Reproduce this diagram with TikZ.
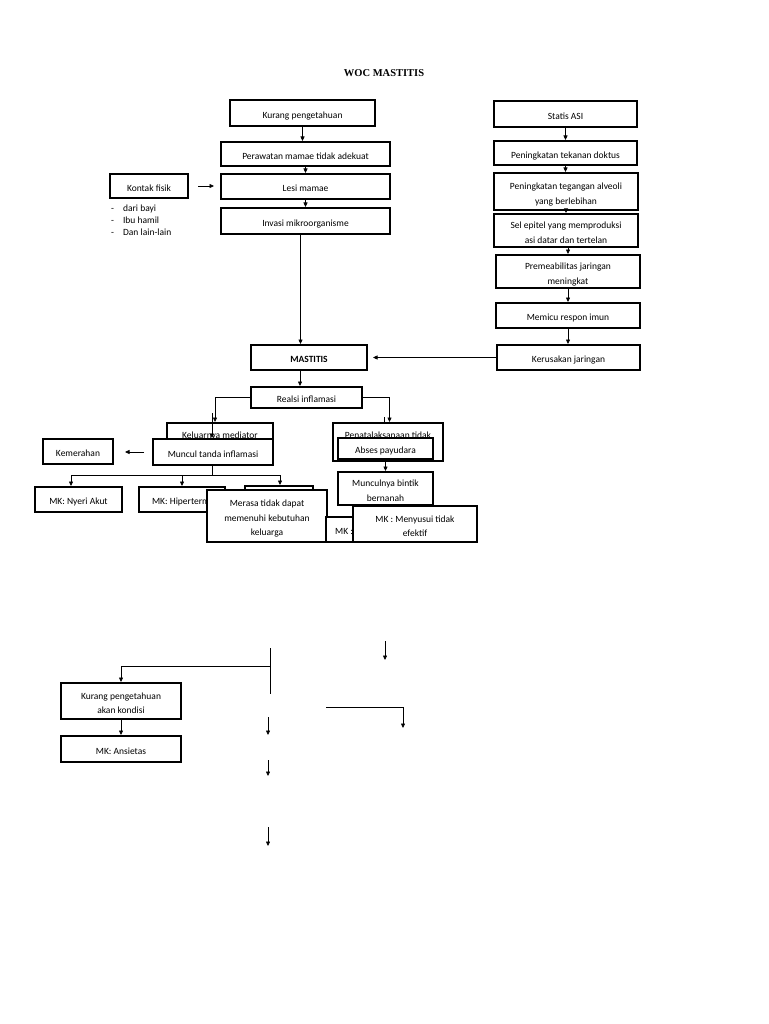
\documentclass[tikz,border=0pt]{standalone}
\usepackage{fontspec}
\setmainfont{Carlito}
\newfontfamily\titlefont{Liberation Serif}
\usetikzlibrary{arrows.meta}
\newcommand\mybox[6]{\node[box, minimum width={#4-#2}, minimum height={#5-#3}] (#1) at ({(#2+#4)/2},{(#3+#5)/2}) {\raisebox{-2.5pt}[\height][\depth]{\begin{tabular}{@{}c@{}}#6\end{tabular}}};}
\tikzset{
  box/.style={draw, line width=2pt, fill=white, align=center, inner sep=1pt, font=\fontsize{9.5}{14.5}\selectfont},
  conn/.style={line width=0.7pt},
  arr/.style={conn, -{Triangle[length=4.5pt,width=4pt]}},
  plain/.style={font=\fontsize{9.5}{12}\selectfont, inner sep=0pt},
}
\begin{document}
\begin{tikzpicture}[x=1pt,y=-1pt]
\useasboundingbox[fill=white] (0,0) rectangle (768,1024);

\node[font=\titlefont\bfseries\fontsize{10.5}{12}\selectfont] (title) at (384,73) {WOC MASTITIS};

% left column
\mybox{kurang}{230}{100}{375}{126}{Kurang pengetahuan}
\mybox{perawatan}{221}{142}{390}{166}{Perawatan mamae tidak adekuat}
\mybox{lesi}{221}{174}{390}{199}{Lesi mamae}
\mybox{invasi}{221}{208}{390}{234}{Invasi mikroorganisme}
\mybox{kontak}{110}{174}{188}{198}{Kontak fisik}
\node[plain, anchor=north west, align=left] (list) at (111,203)
  {\begin{tabular}{@{}l@{\hspace{9pt}}l@{}}
   - & dari bayi\\
   - & Ibu hamil\\
   - & Dan lain-lain
   \end{tabular}};

% right column
\mybox{statis}{494}{101}{637}{127}{Statis ASI}
\mybox{tekanan}{494}{141}{637}{165}{Peningkatan tekanan doktus}
\mybox{tegangan}{494}{173}{638}{210}{Peningkatan tegangan alveoli\\yang berlebihan}
\mybox{sel}{494}{214}{638}{247}{Sel epitel yang memproduksi\\asi datar dan tertelan}
\mybox{premeab}{496}{255}{640}{288}{Premeabilitas jaringan\\meningkat}
\mybox{memicu}{496}{303}{640}{328}{Memicu respon imun}
\mybox{kerusakan}{497}{345}{640}{370}{Kerusakan jaringan}

% centre
\mybox{mastitis}{251}{345}{367}{370}{\textbf{MASTITIS}}
\mybox{realsi}{251}{387}{362}{408}{Realsi inflamasi}
\mybox{keluarnya}{167}{423}{273}{449}{\raisebox{2.5pt}{Keluarnya mediator}}
\mybox{muncul}{153}{439}{273}{465}{Muncul tanda inflamasi}
\mybox{kemerahan}{43}{439}{113}{464}{Kemerahan}
\mybox{penata}{333}{423}{443}{461}{\raisebox{9pt}[0pt][0pt]{Penatalaksanaan tidak}}
\mybox{abses}{338}{438}{433}{459}{Abses payudara}
\mybox{munculnya}{338}{472}{433}{505}{Munculnya bintik\\bernanah}
\mybox{nyeri}{35}{487}{122}{512}{MK: Nyeri Akut}
\mybox{hiper}{139}{487}{225}{512}{MK: Hipertermi}
\mybox{third}{245}{486}{313}{512}{}
\mybox{merasa}{207}{490}{327}{542}{Merasa tidak dapat\\memenuhi kebutuhan\\keluarga}
\mybox{mkh}{326}{517}{362}{542}{MK :}
\mybox{menyusui}{353}{506}{477}{542}{MK : Menyusui tidak\\efektif}

% bottom
\mybox{kurangak}{61}{683}{181}{719}{Kurang pengetahuan\\akan kondisi}
\mybox{ansietas}{61}{736}{181}{762}{MK: Ansietas}

% connectors left column
\draw[arr] (kurang.south) -- (kurang.south |- perawatan.north);
\draw[arr] (perawatan.south) -- (perawatan.south |- lesi.north);
\draw[arr] (lesi.south) -- (lesi.south |- invasi.north);
\draw[arr, shorten <=9pt, shorten >=6pt] (kontak.east) -- (kontak.east -| lesi.west);
\draw[arr] ([xshift=-5pt]invasi.south) -- ([xshift=-5pt]invasi.south |- mastitis.north);

% connectors right column
\draw[arr] (statis.south) -- (statis.south |- tekanan.north);
\draw[arr] (tekanan.south) -- (tekanan.south |- tegangan.north);
\draw[arr] (tegangan.south) -- (tegangan.south |- sel.north);
\draw[arr] ([xshift=2pt]sel.south) -- ([xshift=2pt]sel.south |- premeab.north);
\draw[arr] (premeab.south) -- (premeab.south |- memicu.north);
\draw[arr] (memicu.south) -- (memicu.south |- kerusakan.north);
\draw[arr, shorten >=5pt] (kerusakan.west) -- (mastitis.east);

% centre connectors
\draw[arr] ([xshift=-9pt]mastitis.south) -- ([xshift=-9pt]mastitis.south |- realsi.north);
\draw[arr] (realsi.west) -| ([xshift=-5pt]keluarnya.north);
\coordinate (m0) at (212,413);
\draw[arr] (m0) -- (m0 |- muncul.north);
\draw[arr] (realsi.east) -| ([xshift=1.5pt]penata.north);
\coordinate (tk1) at (384,417);
\coordinate (tk2) at (384,424);
\draw[conn] (tk1) -- (tk2);
\draw[arr] (abses.south) -- (abses.south |- munculnya.north);
\draw[arr, shorten <=8pt, shorten >=11pt] (muncul.west) -- (muncul.west -| kemerahan.east);
\draw[conn] ([xshift=-1pt]muncul.south) -- ++(0,10) coordinate (bj);
\coordinate (bl) at (71,475);
\coordinate (br) at (280,475);
\draw[conn] (bl) -- (br);
\draw[arr] (bl) -- (bl |- nyeri.north);
\draw[arr] (hiper.north |- bj) -- (hiper.north);
\draw[arr] (br) -- (br |- third.north);

% bottom connectors
\coordinate (v1) at (270,648);
\coordinate (v2) at (270,694);
\coordinate (h1) at (270,666);
\draw[conn] (v1) -- (v2);
\draw[arr] (h1) -| (kurangak.north);
\draw[arr] (kurangak.south) -- (kurangak.south |- ansietas.north);
\coordinate (a1) at (385,641);
\coordinate (a2) at (385,660);
\draw[arr] (a1) -- (a2);
\coordinate (b1) at (326,707);
\coordinate (b2) at (403,728);
\draw[arr] (b1) -| (b2);
\coordinate (c1) at (268,717);
\coordinate (c2) at (268,735);
\draw[arr] (c1) -- (c2);
\coordinate (d1) at (268,760);
\coordinate (d2) at (268,776);
\draw[arr] (d1) -- (d2);
\coordinate (e1) at (268,827);
\coordinate (e2) at (268,846);
\draw[arr] (e1) -- (e2);
\end{tikzpicture}
\end{document}
